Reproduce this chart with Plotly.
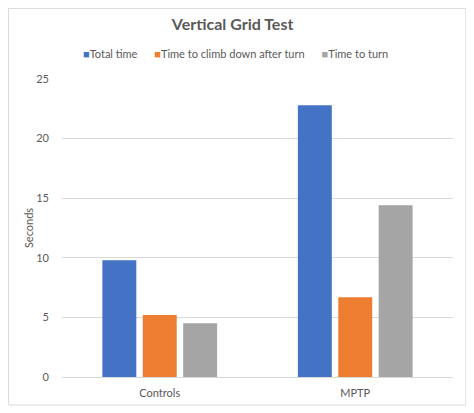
import plotly.graph_objects as go

groups = ["Controls", "MPTP"]
total_time = [9.8, 22.8]
climb_down = [5.2, 6.7]
time_to_turn = [4.5, 14.4]
series_names = ["Total time", "Time to climb down after turn", "Time to turn"]
colors = ["#4472C4", "#ED7D31", "#A5A5A5"]

font_family = "Lato, 'Open Sans', sans-serif"
text_color = "#595959"

fig = go.Figure()
for name, vals, col in zip(series_names, [total_time, climb_down, time_to_turn], colors):
    fig.add_trace(go.Bar(x=groups, y=vals, name=name, marker_color=col,
                         marker_line_width=0, showlegend=False))

# legend written as one line of text with coloured squares (Excel style, tight spacing)
legend_text = "&nbsp;&nbsp;&nbsp;&nbsp;&nbsp;&nbsp;".join(
    f"<span style='color:{c}'>■</span>{n}" for n, c in zip(series_names, colors))
fig.add_annotation(text=legend_text, xref="paper", yref="paper", x=0.445, y=1.084,
                   xanchor="center", yanchor="middle", showarrow=False,
                   font=dict(size=11, color=text_color, family=font_family))

# light frame around the chart area, like the original chart object
fig.add_shape(type="rect", xref="paper", yref="paper",
              x0=-0.137, x1=1.033, y0=-0.094, y1=1.237,
              line=dict(color="#d9d9d9", width=1), layer="below")

# page body has an 8px margin, so the figure is sized to fit the window
fig.update_layout(
    width=466, height=405,
    margin=dict(l=54, r=21, t=71, b=36, autoexpand=False),
    paper_bgcolor="white", plot_bgcolor="white",
    barmode="group", bargap=0.38, bargroupgap=0.16,
    font=dict(family=font_family, size=11, color=text_color),
    title=dict(text="<b>Vertical Grid Test</b>", x=0.482, xanchor="center",
               y=0.96, yanchor="middle",
               font=dict(size=16, color=text_color, family=font_family)),
    yaxis=dict(range=[0, 25], dtick=5, showgrid=True, gridcolor="#d9d9d9",
               zeroline=False, showline=False, ticks="", ticklabelstandoff=12,
               automargin=False,
               title=dict(text="Seconds", standoff=0, font=dict(size=11))),
    xaxis=dict(showline=True, linecolor="#d9d9d9", ticks="", showgrid=False,
               automargin=False, ticklabelstandoff=6),
)

fig.write_html("out.html")
